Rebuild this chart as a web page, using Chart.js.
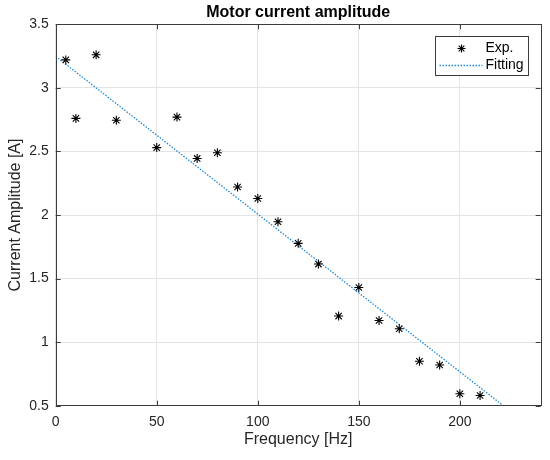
<!DOCTYPE html>
<html>
<head>
<meta charset="utf-8">
<script src="https://cdn.jsdelivr.net/npm/chart.js@4.4.1/dist/chart.umd.min.js"></script>
<style>
  html, body { margin: 0; padding: 0; background: #fff; }
  canvas { display: block; }
</style>
</head>
<body>
<canvas id="motorChart" width="550" height="460"></canvas>
<script>
// measured points
const freqHz = [5, 10, 20, 30, 50, 60, 70, 80, 90, 100, 110, 120, 130, 140, 150, 160, 170, 180, 190, 200, 210];
const currentA = [3.22, 2.76, 3.26, 2.745, 2.53, 2.77, 2.445, 2.49, 2.22, 2.13, 1.947, 1.777, 1.614, 1.205, 1.43, 1.17, 1.105, 0.85, 0.82, 0.594, 0.58];

// fitted line, end points
const fitHz = [0, 221.5];
const fitA = [3.248, 0.5];

const xTicks = [0, 50, 100, 150, 200];
const yTicks = [0.5, 1, 1.5, 2, 2.5, 3, 3.5];

const textColor = "#262626";
const fitColor = "#1f88d8";
const fontFamily = "'Liberation Sans', Arial, Helvetica, sans-serif";

// box, inward tick marks and the legend inside the axes
const axesBox = {
  id: "axesBox",
  afterDraw(chart) {
    const { ctx, chartArea: a, scales } = chart;
    ctx.save();
    ctx.strokeStyle = "#3c3c3c";
    ctx.lineWidth = 1;
    ctx.beginPath();
    xTicks.forEach((v) => {
      const px = Math.round(scales.x.getPixelForValue(v)) + 0.5;
      ctx.moveTo(px, a.bottom); ctx.lineTo(px, a.bottom - 5);
      ctx.moveTo(px, a.top); ctx.lineTo(px, a.top + 5);
    });
    yTicks.forEach((v) => {
      const py = Math.round(scales.y.getPixelForValue(v)) + 0.5;
      ctx.moveTo(a.left, py); ctx.lineTo(a.left + 5, py);
      ctx.moveTo(a.right, py); ctx.lineTo(a.right - 5, py);
    });
    ctx.stroke();
    ctx.strokeRect(Math.round(a.left) + 0.5, Math.round(a.top) + 0.5,
      Math.round(a.right - a.left), Math.round(a.bottom - a.top));

    // legend
    const bw = 93, bh = 39;
    const bx = Math.round(a.right - 12.7 - bw) + 0.5;
    const by = Math.round(a.top + 11.7) + 0.5;
    ctx.fillStyle = "#fff";
    ctx.fillRect(bx, by, bw, bh);
    ctx.strokeStyle = "#3c3c3c";
    ctx.strokeRect(bx, by, bw, bh);

    const ds = chart.data.datasets;
    const textX = bx + 50;
    const row1 = by + 12, row2 = by + 29;

    // star marker
    const sx = bx + 26, r = 4;
    ctx.strokeStyle = "#000";
    ctx.lineWidth = 1.1;
    ctx.beginPath();
    for (let k = 0; k < 4; k++) {
      const ang = k * Math.PI / 4;
      ctx.moveTo(sx - r * Math.cos(ang), row1 - r * Math.sin(ang));
      ctx.lineTo(sx + r * Math.cos(ang), row1 + r * Math.sin(ang));
    }
    ctx.stroke();

    // dotted line sample
    ctx.strokeStyle = fitColor;
    ctx.lineWidth = 1.3;
    ctx.setLineDash([1.5, 1.5]);
    ctx.beginPath();
    ctx.moveTo(bx + 4, row2);
    ctx.lineTo(bx + 47, row2);
    ctx.stroke();
    ctx.setLineDash([]);

    ctx.fillStyle = "#000";
    ctx.font = "14px " + fontFamily;
    ctx.textBaseline = "middle";
    ctx.textAlign = "left";
    ctx.fillText(ds[0].label, textX, row1);
    ctx.fillText(ds[1].label, textX, row2);
    ctx.restore();
  },
};

new Chart(document.getElementById("motorChart"), {
  type: "scatter",
  data: {
    datasets: [
      {
        label: "Exp.",
        data: freqHz.map((f, i) => ({ x: f, y: currentA[i] })),
        pointStyle: "star",
        radius: 4.5,
        borderColor: "#000",
        backgroundColor: "#000",
        borderWidth: 1.1,
      },
      {
        label: "Fitting",
        type: "line",
        data: fitHz.map((f, i) => ({ x: f, y: fitA[i] })),
        borderColor: fitColor,
        borderWidth: 1.3,
        borderDash: [1.5, 1.5],
        pointRadius: 0,
        fill: false,
      },
    ],
  },
  options: {
    responsive: false,
    animation: false,
    devicePixelRatio: 1,
    layout: { padding: { left: 0, right: 9.3, top: 0, bottom: 0 } },
    plugins: {
      legend: { display: false },
      title: { display: false },
      tooltip: { enabled: false },
    },
    scales: {
      x: {
        type: "linear",
        position: "bottom",
        min: 0,
        max: 240,
        afterBuildTicks: (s) => { s.ticks = xTicks.map((v) => ({ value: v })); },
        afterFit: (s) => { s.height = 54.3; },
        ticks: { color: textColor, font: { size: 14, family: fontFamily }, padding: 8, maxRotation: 0 },
        grid: { color: "#e4e4e4", drawTicks: false },
        border: { display: false },
        title: {
          display: true,
          text: "Frequency [Hz]",
          color: textColor,
          font: { size: 16, family: fontFamily, lineHeight: 1 },
          padding: { top: 0, bottom: 12 },
        },
      },
      top: {
        type: "linear",
        position: "top",
        min: 0,
        max: 240,
        ticks: { display: false },
        grid: { display: false },
        border: { display: false },
        afterFit: (s) => { s.height = 24.3; },
        title: {
          display: true,
          text: "Motor current amplitude",
          color: "#000",
          font: { size: 16, weight: "bold", family: fontFamily, lineHeight: 1 },
          padding: { top: 5, bottom: 0 },
        },
      },
      y: {
        type: "linear",
        min: 0.5,
        max: 3.5,
        afterBuildTicks: (s) => { s.ticks = yTicks.map((v) => ({ value: v })); },
        afterFit: (s) => { s.width = 55.7; },
        ticks: {
          color: textColor,
          font: { size: 14, family: fontFamily },
          padding: 7,
          callback: (v) => String(v),
        },
        grid: { color: "#e4e4e4", drawTicks: false },
        border: { display: false },
        title: {
          display: true,
          text: "Current Amplitude [A]",
          color: textColor,
          font: { size: 16, family: fontFamily, lineHeight: 1 },
          padding: { top: 8, bottom: 0 },
        },
      },
    },
  },
  plugins: [axesBox],
});
</script>
</body>
</html>
